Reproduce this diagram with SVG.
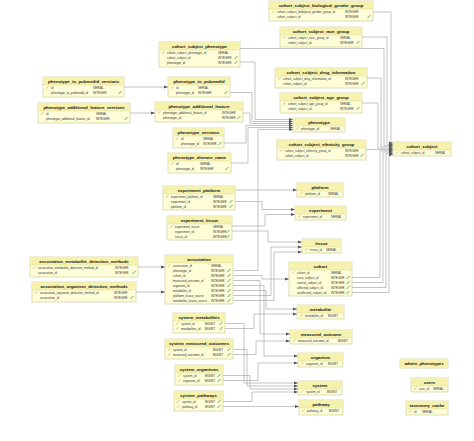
<svg xmlns="http://www.w3.org/2000/svg" width="474" height="441" viewBox="0 0 474 441">
<style>
.b{fill:#fefdd8;stroke:#c9c58c;stroke-width:.6}
.h{fill:#f6f2ad}
.s{stroke:#d6d29a;stroke-width:.4}
.t{font-family:"Liberation Sans",Arial,sans-serif;font-weight:bold;font-size:4.3px;text-anchor:middle;fill:#111}
.r{font-family:"Liberation Sans",Arial,sans-serif;font-size:3px;fill:#333}
.k{stroke:#c8b020;stroke-width:.8;fill:none}
.p{stroke:#3d8b3d;stroke-width:.8;fill:none}
.e path{fill:none;stroke:#ababab;stroke-width:.7;marker-end:url(#a)}
</style>
<defs>
<marker id="a" markerWidth="4" markerHeight="4" refX="4" refY="2" orient="auto" markerUnits="userSpaceOnUse"><path d="M0,0.5L4,2L0,3.5z" fill="#555"/></marker>
</defs>
<rect width="474" height="441" fill="#fff"/>
<g class="e" id="connectors">
<path d="M124,87H168"/>
<path d="M130,113H155"/>
<path d="M138,267H165"/>
<path d="M136,292H165"/>
<path d="M373,12H391V143H393"/>
<path d="M362,37H387V144.3H393"/>
<path d="M240,48.5H384V145.6H393"/>
<path d="M367,78H381V146.9H393"/>
<path d="M362,103H378V148.2H393"/>
<path d="M366,149.5H393"/>
<path d="M352,277.5H380V150.8H393"/>
<path d="M352,282.5H383V152.1H393"/>
<path d="M352,287.5H386V153.4H393"/>
<path d="M352,292.5H389V154.7H393"/>
<path d="M240,62H255V119.5H293"/>
<path d="M230,92.5H252V121.5H293"/>
<path d="M243,113H250V123.5H293"/>
<path d="M224,143H246V125.5H293"/>
<path d="M231,163H248V127.5H293"/>
<path d="M233,270.5H258V129.5H293"/>
<path d="M235,190H297"/>
<path d="M235,201.5H262V209.5H295"/>
<path d="M232,226H265V214.5H295"/>
<path d="M232,231H268V242H302"/>
<path d="M233,295.5H271V247H302"/>
<path d="M233,300.5H274V252H302"/>
<path d="M233,275.5H262V279H289"/>
<path d="M233,280.5H260V334H290"/>
<path d="M233,285.5H264V356H298"/>
<path d="M233,290.5H266V309H297"/>
<path d="M225,328.5H254V314H297"/>
<path d="M233,354.5H256V341H290"/>
<path d="M223,380.5H258V363H298"/>
<path d="M225,323.5H244V383H298"/>
<path d="M233,349.5H247V386H298"/>
<path d="M223,375.5H250V389H298"/>
<path d="M223,401.5H252V392H298"/>
<path d="M223,406.5H299"/>
</g>
<g id="n_bgg" transform="translate(269,1)"><rect class="b" width="104" height="20"/><rect class="h" x=".3" y=".3" width="103.4" height="7.7"/><path class="s" d="M0,8H104"/><text class="t" x="52" y="5.8">cohort_subject_biological_gender_group</text><path class="k" d="M3,11.7l2.4,-2.4"/><text class="r" x="8" y="11.6">cohort_subject_biological_gender_group_id</text><text class="r" x="76" y="11.6">INTEGER</text><text class="r" x="8" y="16.6">cohort_subject_id</text><text class="r" x="76" y="16.6">INTEGER</text><path class="p" d="M98.5,17l3,-3"/></g>
<g id="n_race" transform="translate(280,27)"><rect class="b" width="82" height="20"/><rect class="h" x=".3" y=".3" width="81.4" height="7.7"/><path class="s" d="M0,8H82"/><text class="t" x="41" y="5.8">cohort_subject_race_group</text><path class="k" d="M3,11.7l2.4,-2.4"/><text class="r" x="8" y="11.6">cohort_subject_race_group_id</text><text class="r" x="60" y="11.6">SERIAL</text><text class="r" x="8" y="16.6">cohort_subject_id</text><text class="r" x="60" y="16.6">INTEGER</text><path class="p" d="M76.5,17l3,-3"/></g>
<g id="n_csp" transform="translate(159,42)"><rect class="b" width="81" height="25"/><rect class="h" x=".3" y=".3" width="80.4" height="7.7"/><path class="s" d="M0,8H81"/><text class="t" x="40.5" y="5.8">cohort_subject_phenotype</text><path class="k" d="M3,11.7l2.4,-2.4"/><text class="r" x="8" y="11.6">cohort_subject_phenotype_id</text><text class="r" x="59" y="11.6">SERIAL</text><text class="r" x="8" y="16.6">cohort_subject_id</text><text class="r" x="59" y="16.6">INTEGER</text><path class="p" d="M75.5,17l3,-3"/><text class="r" x="8" y="21.6">phenotype_id</text><text class="r" x="59" y="21.6">INTEGER</text><path class="p" d="M75.5,22l3,-3"/></g>
<g id="n_drug" transform="translate(275,68)"><rect class="b" width="92" height="20"/><rect class="h" x=".3" y=".3" width="91.4" height="7.7"/><path class="s" d="M0,8H92"/><text class="t" x="46" y="5.8">cohort_subject_drug_information</text><path class="k" d="M3,11.7l2.4,-2.4"/><text class="r" x="8" y="11.6">cohort_subject_drug_information_id</text><text class="r" x="70" y="11.6">INTEGER</text><text class="r" x="8" y="16.6">cohort_subject_id</text><text class="r" x="70" y="16.6">INTEGER</text><path class="p" d="M86.5,17l3,-3"/></g>
<g id="n_age" transform="translate(280,93)"><rect class="b" width="82" height="20"/><rect class="h" x=".3" y=".3" width="81.4" height="7.7"/><path class="s" d="M0,8H82"/><text class="t" x="41" y="5.8">cohort_subject_age_group</text><path class="k" d="M3,11.7l2.4,-2.4"/><text class="r" x="8" y="11.6">cohort_subject_age_group_id</text><text class="r" x="60" y="11.6">SERIAL</text><text class="r" x="8" y="16.6">cohort_subject_id</text><text class="r" x="60" y="16.6">INTEGER</text><path class="p" d="M76.5,17l3,-3"/></g>
<g id="n_phenotype" transform="translate(293,118)"><rect class="b" width="52" height="14"/><rect class="h" x=".3" y=".3" width="51.4" height="7.7"/><path class="s" d="M0,8H52"/><text class="t" x="26" y="5.8">phenotype</text><path class="k" d="M3,11.7l2.4,-2.4"/><text class="r" x="8" y="11.6">phenotype_id</text><text class="r" x="37" y="11.6">SERIAL</text></g>
<g id="n_eth" transform="translate(277,140)"><rect class="b" width="89" height="20"/><rect class="h" x=".3" y=".3" width="88.4" height="7.7"/><path class="s" d="M0,8H89"/><text class="t" x="44.5" y="5.8">cohort_subject_ethnicity_group</text><path class="k" d="M3,11.7l2.4,-2.4"/><text class="r" x="8" y="11.6">cohort_subject_ethnicity_group_id</text><text class="r" x="68" y="11.6">INTEGER</text><text class="r" x="8" y="16.6">cohort_subject_id</text><text class="r" x="68" y="16.6">INTEGER</text><path class="p" d="M83.5,17l3,-3"/></g>
<g id="n_cohort_subject" transform="translate(393,142)"><rect class="b" width="58" height="14"/><rect class="h" x=".3" y=".3" width="57.4" height="7.7"/><path class="s" d="M0,8H58"/><text class="t" x="29" y="5.8">cohort_subject</text><path class="k" d="M3,11.7l2.4,-2.4"/><text class="r" x="8" y="11.6">cohort_subject_id</text><text class="r" x="42" y="11.6">SERIAL</text></g>
<g id="n_ptpv" transform="translate(43,77)"><rect class="b" width="81" height="20"/><rect class="h" x=".3" y=".3" width="80.4" height="7.7"/><path class="s" d="M0,8H81"/><text class="t" x="40.5" y="5.8">phenotype_to_pubmedid_versions</text><path class="k" d="M3,11.7l2.4,-2.4"/><text class="r" x="8" y="11.6">id</text><text class="r" x="50" y="11.6">SERIAL</text><text class="r" x="8" y="16.6">phenotype_to_pubmedid_id</text><text class="r" x="50" y="16.6">INTEGER</text><path class="p" d="M75.5,17l3,-3"/></g>
<g id="n_ptp" transform="translate(168,77)"><rect class="b" width="62" height="20"/><rect class="h" x=".3" y=".3" width="61.4" height="7.7"/><path class="s" d="M0,8H62"/><text class="t" x="31" y="5.8">phenotype_to_pubmedid</text><path class="k" d="M3,11.7l2.4,-2.4"/><text class="r" x="8" y="11.6">id</text><text class="r" x="30" y="11.6">SERIAL</text><text class="r" x="8" y="16.6">phenotype_id</text><text class="r" x="30" y="16.6">INTEGER</text><path class="p" d="M56.5,17l3,-3"/></g>
<g id="n_pafv" transform="translate(38,103)"><rect class="b" width="92" height="20"/><rect class="h" x=".3" y=".3" width="91.4" height="7.7"/><path class="s" d="M0,8H92"/><text class="t" x="46" y="5.8">phenotype_additional_feature_versions</text><path class="k" d="M3,11.7l2.4,-2.4"/><text class="r" x="8" y="11.6">id</text><text class="r" x="58" y="11.6">SERIAL</text><text class="r" x="8" y="16.6">phenotype_additional_feature_id</text><text class="r" x="58" y="16.6">INTEGER</text><path class="p" d="M86.5,17l3,-3"/></g>
<g id="n_paf" transform="translate(155,102)"><rect class="b" width="88" height="20"/><rect class="h" x=".3" y=".3" width="87.4" height="7.7"/><path class="s" d="M0,8H88"/><text class="t" x="44" y="5.8">phenotype_additional_feature</text><path class="k" d="M3,11.7l2.4,-2.4"/><text class="r" x="8" y="11.6">phenotype_additional_feature_id</text><text class="r" x="67" y="11.6">INTEGER</text><text class="r" x="8" y="16.6">phenotype_id</text><text class="r" x="67" y="16.6">INTEGER</text><path class="p" d="M82.5,17l3,-3"/></g>
<g id="n_pv" transform="translate(173,128)"><rect class="b" width="51" height="20"/><rect class="h" x=".3" y=".3" width="50.4" height="7.7"/><path class="s" d="M0,8H51"/><text class="t" x="25.5" y="5.8">phenotype_versions</text><path class="k" d="M3,11.7l2.4,-2.4"/><text class="r" x="8" y="11.6">id</text><text class="r" x="30" y="11.6">SERIAL</text><text class="r" x="8" y="16.6">phenotype_id</text><text class="r" x="30" y="16.6">INTEGER</text><path class="p" d="M45.5,17l3,-3"/></g>
<g id="n_pdn" transform="translate(168,153)"><rect class="b" width="63" height="20"/><rect class="h" x=".3" y=".3" width="62.4" height="7.7"/><path class="s" d="M0,8H63"/><text class="t" x="31.5" y="5.8">phenotype_disease_name</text><path class="k" d="M3,11.7l2.4,-2.4"/><text class="r" x="8" y="11.6">id</text><text class="r" x="32" y="11.6">SERIAL</text><text class="r" x="8" y="16.6">phenotype_id</text><text class="r" x="32" y="16.6">INTEGER</text><path class="p" d="M57.5,17l3,-3"/></g>
<g id="n_ep" transform="translate(163,186)"><rect class="b" width="72" height="24"/><rect class="h" x=".3" y=".3" width="71.4" height="7.7"/><path class="s" d="M0,8H72"/><text class="t" x="36" y="5.8">experiment_platform</text><path class="k" d="M3,11.7l2.4,-2.4"/><text class="r" x="8" y="11.6">experiment_platform_id</text><text class="r" x="50" y="11.6">SERIAL</text><text class="r" x="8" y="16.6">experiment_id</text><text class="r" x="50" y="16.6">INTEGER</text><path class="p" d="M66.5,17l3,-3"/><text class="r" x="8" y="21.6">platform_id</text><text class="r" x="50" y="21.6">INTEGER</text><path class="p" d="M66.5,22l3,-3"/></g>
<g id="n_platform" transform="translate(297,183)"><rect class="b" width="46" height="14"/><rect class="h" x=".3" y=".3" width="45.4" height="7.7"/><path class="s" d="M0,8H46"/><text class="t" x="23" y="5.8">platform</text><path class="k" d="M3,11.7l2.4,-2.4"/><text class="r" x="8" y="11.6">platform_id</text><text class="r" x="31" y="11.6">SERIAL</text></g>
<g id="n_experiment" transform="translate(295,206)"><rect class="b" width="51" height="14"/><rect class="h" x=".3" y=".3" width="50.4" height="7.7"/><path class="s" d="M0,8H51"/><text class="t" x="25.5" y="5.8">experiment</text><path class="k" d="M3,11.7l2.4,-2.4"/><text class="r" x="8" y="11.6">experiment_id</text><text class="r" x="36" y="11.6">SERIAL</text></g>
<g id="n_et" transform="translate(167,216)"><rect class="b" width="65" height="24"/><rect class="h" x=".3" y=".3" width="64.4" height="7.7"/><path class="s" d="M0,8H65"/><text class="t" x="32.5" y="5.8">experiment_tissue</text><path class="k" d="M3,11.7l2.4,-2.4"/><text class="r" x="8" y="11.6">experiment_tissue</text><text class="r" x="46" y="11.6">SERIAL</text><text class="r" x="8" y="16.6">experiment_id</text><text class="r" x="46" y="16.6">INTEGER</text><path class="p" d="M59.5,17l3,-3"/><text class="r" x="8" y="21.6">tissue_id</text><text class="r" x="46" y="21.6">INTEGER</text><path class="p" d="M59.5,22l3,-3"/></g>
<g id="n_tissue" transform="translate(302,239)"><rect class="b" width="39" height="14"/><rect class="h" x=".3" y=".3" width="38.4" height="7.7"/><path class="s" d="M0,8H39"/><text class="t" x="19.5" y="5.8">tissue</text><path class="k" d="M3,11.7l2.4,-2.4"/><text class="r" x="8" y="11.6">tissue_id</text><text class="r" x="24" y="11.6">SERIAL</text></g>
<g id="n_amdm" transform="translate(30,257)"><rect class="b" width="108" height="20"/><rect class="h" x=".3" y=".3" width="107.4" height="7.7"/><path class="s" d="M0,8H108"/><text class="t" x="54" y="5.8">association_metabolite_detection_methods</text><path class="k" d="M3,11.7l2.4,-2.4"/><text class="r" x="8" y="11.6">association_metabolite_detection_method_id</text><text class="r" x="85" y="11.6">INTEGER</text><text class="r" x="8" y="16.6">association_id</text><text class="r" x="85" y="16.6">INTEGER</text><path class="p" d="M102.5,17l3,-3"/></g>
<g id="n_aodm" transform="translate(32,282)"><rect class="b" width="104" height="20"/><rect class="h" x=".3" y=".3" width="103.4" height="7.7"/><path class="s" d="M0,8H104"/><text class="t" x="52" y="5.8">association_organism_detection_methods</text><path class="k" d="M3,11.7l2.4,-2.4"/><text class="r" x="8" y="11.6">association_organism_detection_method_id</text><text class="r" x="82" y="11.6">INTEGER</text><text class="r" x="8" y="16.6">association_id</text><text class="r" x="82" y="16.6">INTEGER</text><path class="p" d="M98.5,17l3,-3"/></g>
<g id="n_association" transform="translate(165,255)"><rect class="b" width="68" height="49"/><rect class="h" x=".3" y=".3" width="67.4" height="7.7"/><path class="s" d="M0,8H68"/><text class="t" x="34" y="5.8">association</text><path class="k" d="M3,11.7l2.4,-2.4"/><text class="r" x="8" y="11.6">association_id</text><text class="r" x="46" y="11.6">SERIAL</text><text class="r" x="8" y="16.6">phenotype_id</text><text class="r" x="46" y="16.6">INTEGER</text><path class="p" d="M62.5,17l3,-3"/><text class="r" x="8" y="21.6">cohort_id</text><text class="r" x="46" y="21.6">INTEGER</text><path class="p" d="M62.5,22l3,-3"/><text class="r" x="8" y="26.6">measured_outcome_id</text><text class="r" x="46" y="26.6">INTEGER</text><path class="p" d="M62.5,27l3,-3"/><text class="r" x="8" y="31.6">organism_id</text><text class="r" x="46" y="31.6">INTEGER</text><path class="p" d="M62.5,32l3,-3"/><text class="r" x="8" y="36.6">metabolite_id</text><text class="r" x="46" y="36.6">INTEGER</text><path class="p" d="M62.5,37l3,-3"/><text class="r" x="8" y="41.6">platform_tissue_source</text><text class="r" x="46" y="41.6">INTEGER</text><path class="p" d="M62.5,42l3,-3"/><text class="r" x="8" y="46.6">metabolite_tissue_source</text><text class="r" x="46" y="46.6">INTEGER</text><path class="p" d="M62.5,47l3,-3"/></g>
<g id="n_cohort" transform="translate(289,262)"><rect class="b" width="63" height="34"/><rect class="h" x=".3" y=".3" width="62.4" height="7.7"/><path class="s" d="M0,8H63"/><text class="t" x="31.5" y="5.8">cohort</text><path class="k" d="M3,11.7l2.4,-2.4"/><text class="r" x="8" y="11.6">cohort_id</text><text class="r" x="42" y="11.6">SERIAL</text><text class="r" x="8" y="16.6">case_subject_id</text><text class="r" x="42" y="16.6">INTEGER</text><path class="p" d="M57.5,17l3,-3"/><text class="r" x="8" y="21.6">control_subject_id</text><text class="r" x="42" y="21.6">INTEGER</text><path class="p" d="M57.5,22l3,-3"/><text class="r" x="8" y="26.6">affected_subject_id</text><text class="r" x="42" y="26.6">INTEGER</text><path class="p" d="M57.5,27l3,-3"/><text class="r" x="8" y="31.6">unaffected_subject_id</text><text class="r" x="42" y="31.6">INTEGER</text><path class="p" d="M57.5,32l3,-3"/></g>
<g id="n_metabolite" transform="translate(297,305)"><rect class="b" width="47" height="14"/><rect class="h" x=".3" y=".3" width="46.4" height="7.7"/><path class="s" d="M0,8H47"/><text class="t" x="23.5" y="5.8">metabolite</text><path class="k" d="M3,11.7l2.4,-2.4"/><text class="r" x="8" y="11.6">metabolite_id</text><text class="r" x="31" y="11.6">BIGINT</text></g>
<g id="n_sm" transform="translate(173,313)"><rect class="b" width="52" height="20"/><rect class="h" x=".3" y=".3" width="51.4" height="7.7"/><path class="s" d="M0,8H52"/><text class="t" x="26" y="5.8">system_metabolites</text><path class="k" d="M3,11.7l2.4,-2.4M3,16.7l2.4,-2.4"/><text class="r" x="8" y="11.6">system_id</text><text class="r" x="32" y="11.6">BIGINT</text><path class="p" d="M46.5,12l3,-3"/><text class="r" x="8" y="16.6">metabolites_id</text><text class="r" x="32" y="16.6">BIGINT</text><path class="p" d="M46.5,17l3,-3"/></g>
<g id="n_mo" transform="translate(290,330)"><rect class="b" width="62" height="14"/><rect class="h" x=".3" y=".3" width="61.4" height="7.7"/><path class="s" d="M0,8H62"/><text class="t" x="31" y="5.8">measured_outcome</text><path class="k" d="M3,11.7l2.4,-2.4"/><text class="r" x="8" y="11.6">measured_outcome_id</text><text class="r" x="48" y="11.6">BIGINT</text></g>
<g id="n_smo" transform="translate(165,339)"><rect class="b" width="68" height="20"/><rect class="h" x=".3" y=".3" width="67.4" height="7.7"/><path class="s" d="M0,8H68"/><text class="t" x="34" y="5.8">system_measured_outcomes</text><path class="k" d="M3,11.7l2.4,-2.4M3,16.7l2.4,-2.4"/><text class="r" x="8" y="11.6">system_id</text><text class="r" x="48" y="11.6">BIGINT</text><path class="p" d="M62.5,12l3,-3"/><text class="r" x="8" y="16.6">measured_outcome_id</text><text class="r" x="48" y="16.6">BIGINT</text><path class="p" d="M62.5,17l3,-3"/></g>
<g id="n_organism" transform="translate(298,353)"><rect class="b" width="45" height="14"/><rect class="h" x=".3" y=".3" width="44.4" height="7.7"/><path class="s" d="M0,8H45"/><text class="t" x="22.5" y="5.8">organism</text><path class="k" d="M3,11.7l2.4,-2.4"/><text class="r" x="8" y="11.6">organism_id</text><text class="r" x="30" y="11.6">BIGINT</text></g>
<g id="n_so" transform="translate(175,365)"><rect class="b" width="48" height="20"/><rect class="h" x=".3" y=".3" width="47.4" height="7.7"/><path class="s" d="M0,8H48"/><text class="t" x="24" y="5.8">system_organisms</text><path class="k" d="M3,11.7l2.4,-2.4M3,16.7l2.4,-2.4"/><text class="r" x="8" y="11.6">system_id</text><text class="r" x="30" y="11.6">BIGINT</text><path class="p" d="M42.5,12l3,-3"/><text class="r" x="8" y="16.6">organism_id</text><text class="r" x="30" y="16.6">BIGINT</text><path class="p" d="M42.5,17l3,-3"/></g>
<g id="n_system" transform="translate(298,381)"><rect class="b" width="44" height="14"/><rect class="h" x=".3" y=".3" width="43.4" height="7.7"/><path class="s" d="M0,8H44"/><text class="t" x="22" y="5.8">system</text><path class="k" d="M3,11.7l2.4,-2.4"/><text class="r" x="8" y="11.6">system_id</text><text class="r" x="29" y="11.6">BIGINT</text></g>
<g id="n_sp" transform="translate(174,391)"><rect class="b" width="49" height="20"/><rect class="h" x=".3" y=".3" width="48.4" height="7.7"/><path class="s" d="M0,8H49"/><text class="t" x="24.5" y="5.8">system_pathways</text><path class="k" d="M3,11.7l2.4,-2.4M3,16.7l2.4,-2.4"/><text class="r" x="8" y="11.6">system_id</text><text class="r" x="31" y="11.6">BIGINT</text><path class="p" d="M43.5,12l3,-3"/><text class="r" x="8" y="16.6">pathway_id</text><text class="r" x="31" y="16.6">BIGINT</text><path class="p" d="M43.5,17l3,-3"/></g>
<g id="n_pathway" transform="translate(299,400)"><rect class="b" width="44" height="15"/><rect class="h" x=".3" y=".3" width="43.4" height="7.7"/><path class="s" d="M0,8H44"/><text class="t" x="22" y="5.8">pathway</text><path class="k" d="M3,11.7l2.4,-2.4"/><text class="r" x="8" y="11.6">pathway_id</text><text class="r" x="30" y="11.6">BIGINT</text></g>
<g id="n_admin" transform="translate(400,359)"><rect class="b" width="48" height="9"/><rect class="h" x=".3" y=".3" width="47.4" height="8.4"/><text class="t" x="24" y="6">admin_phenotypes</text></g>
<g id="n_users" transform="translate(411,378)"><rect class="b" width="37" height="14"/><rect class="h" x=".3" y=".3" width="36.4" height="7.7"/><path class="s" d="M0,8H37"/><text class="t" x="18.5" y="5.8">users</text><path class="k" d="M3,11.7l2.4,-2.4"/><text class="r" x="8" y="11.6">user_id</text><text class="r" x="22" y="11.6">SERIAL</text></g>
<g id="n_tax" transform="translate(406,401)"><rect class="b" width="42" height="14"/><rect class="h" x=".3" y=".3" width="41.4" height="7.7"/><path class="s" d="M0,8H42"/><text class="t" x="21" y="5.8">taxonomy_cache</text><path class="k" d="M3,11.7l2.4,-2.4"/><text class="r" x="8" y="11.6">id</text><text class="r" x="16" y="11.6">SERIAL</text></g>
</svg>
